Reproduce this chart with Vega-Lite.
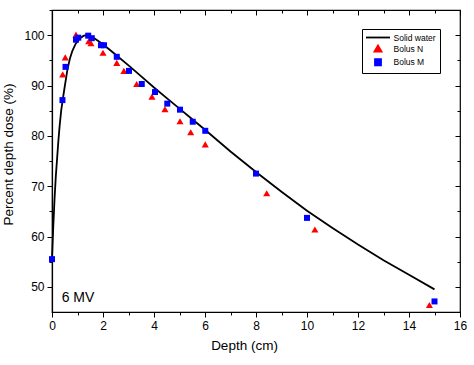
{
  "$schema": "https://vega.github.io/schema/vega-lite/v6.json",
  "autosize": "none",
  "width": 408,
  "height": 302,
  "padding": {"left": 52, "top": 10, "right": 14, "bottom": 53},
  "background": "white",
  "config": {
    "view": {"stroke": "black", "strokeWidth": 1.2},
    "font": "Liberation Sans",
    "axis": {"grid": false, "domainColor": "black", "tickColor": "black", "labelColor": "black", "titleColor": "black", "labelFont": "Liberation Sans", "titleFont": "Liberation Sans", "labelFontSize": 12, "titleFontSize": 13.5, "titleFontWeight": "normal", "domainWidth": 1.2, "tickWidth": 1},
    "legend": {"orient": "none", "legendX": 310, "legendY": 19, "strokeColor": "black", "fillColor": "white", "padding": 4, "labelFontSize": 8.5, "labelFont": "Liberation Sans", "labelColor": "black", "rowPadding": -1, "symbolStrokeWidth": 1.8, "symbolOffset": 7.5, "labelOffset": 11, "title": null}
  },
  "datasets": {
    "water": [
      {"depth": 0, "dose": 55.5, "series": "Solid water"},
      {"depth": 0.05, "dose": 62, "series": "Solid water"},
      {"depth": 0.1, "dose": 67.5, "series": "Solid water"},
      {"depth": 0.15, "dose": 72, "series": "Solid water"},
      {"depth": 0.2, "dose": 75.5, "series": "Solid water"},
      {"depth": 0.25, "dose": 79, "series": "Solid water"},
      {"depth": 0.3, "dose": 82, "series": "Solid water"},
      {"depth": 0.36, "dose": 85, "series": "Solid water"},
      {"depth": 0.43, "dose": 87.5, "series": "Solid water"},
      {"depth": 0.5, "dose": 89.8, "series": "Solid water"},
      {"depth": 0.6, "dose": 93, "series": "Solid water"},
      {"depth": 0.7, "dose": 95.3, "series": "Solid water"},
      {"depth": 0.8, "dose": 96.9, "series": "Solid water"},
      {"depth": 0.93, "dose": 98.3, "series": "Solid water"},
      {"depth": 1.1, "dose": 99.4, "series": "Solid water"},
      {"depth": 1.25, "dose": 99.9, "series": "Solid water"},
      {"depth": 1.4, "dose": 100, "series": "Solid water"},
      {"depth": 1.6, "dose": 99.6, "series": "Solid water"},
      {"depth": 1.8, "dose": 98.9, "series": "Solid water"},
      {"depth": 2.0, "dose": 98.2, "series": "Solid water"},
      {"depth": 2.5, "dose": 96.1, "series": "Solid water"},
      {"depth": 3.0, "dose": 94.0, "series": "Solid water"},
      {"depth": 3.5, "dose": 91.8, "series": "Solid water"},
      {"depth": 4.0, "dose": 89.6, "series": "Solid water"},
      {"depth": 4.5, "dose": 87.5, "series": "Solid water"},
      {"depth": 5.0, "dose": 85.4, "series": "Solid water"},
      {"depth": 5.5, "dose": 83.3, "series": "Solid water"},
      {"depth": 6.0, "dose": 81.2, "series": "Solid water"},
      {"depth": 7.0, "dose": 76.9, "series": "Solid water"},
      {"depth": 8.0, "dose": 72.8, "series": "Solid water"},
      {"depth": 9.0, "dose": 68.9, "series": "Solid water"},
      {"depth": 10.0, "dose": 65.1, "series": "Solid water"},
      {"depth": 11.0, "dose": 61.7, "series": "Solid water"},
      {"depth": 12.0, "dose": 58.4, "series": "Solid water"},
      {"depth": 13.0, "dose": 55.3, "series": "Solid water"},
      {"depth": 14.0, "dose": 52.4, "series": "Solid water"},
      {"depth": 15.0, "dose": 49.5, "series": "Solid water"}
    ],
    "bolusN": [
      {"depth": 0.42, "dose": 92.2, "series": "Bolus N"},
      {"depth": 0.52, "dose": 95.6, "series": "Bolus N"},
      {"depth": 0.94, "dose": 100.1, "series": "Bolus N"},
      {"depth": 1.44, "dose": 98.8, "series": "Bolus N"},
      {"depth": 1.53, "dose": 98.4, "series": "Bolus N"},
      {"depth": 2.0, "dose": 96.5, "series": "Bolus N"},
      {"depth": 2.54, "dose": 94.5, "series": "Bolus N"},
      {"depth": 2.82, "dose": 92.9, "series": "Bolus N"},
      {"depth": 3.32, "dose": 90.3, "series": "Bolus N"},
      {"depth": 3.92, "dose": 87.8, "series": "Bolus N"},
      {"depth": 4.43, "dose": 85.3, "series": "Bolus N"},
      {"depth": 5.02, "dose": 82.9, "series": "Bolus N"},
      {"depth": 5.44, "dose": 80.7, "series": "Bolus N"},
      {"depth": 6.01, "dose": 78.3, "series": "Bolus N"},
      {"depth": 8.42, "dose": 68.6, "series": "Bolus N"},
      {"depth": 10.31, "dose": 61.4, "series": "Bolus N"},
      {"depth": 14.8, "dose": 46.4, "series": "Bolus N"}
    ],
    "bolusM": [
      {"depth": 0, "dose": 55.5, "series": "Bolus M"},
      {"depth": 0.41, "dose": 87.1, "series": "Bolus M"},
      {"depth": 0.53, "dose": 93.7, "series": "Bolus M"},
      {"depth": 0.94, "dose": 99.1, "series": "Bolus M"},
      {"depth": 1.03, "dose": 99.5, "series": "Bolus M"},
      {"depth": 1.42, "dose": 99.9, "series": "Bolus M"},
      {"depth": 1.56, "dose": 99.4, "series": "Bolus M"},
      {"depth": 1.92, "dose": 98.0, "series": "Bolus M"},
      {"depth": 2.04, "dose": 98.0, "series": "Bolus M"},
      {"depth": 2.54, "dose": 95.7, "series": "Bolus M"},
      {"depth": 3.02, "dose": 92.9, "series": "Bolus M"},
      {"depth": 3.52, "dose": 90.3, "series": "Bolus M"},
      {"depth": 4.04, "dose": 88.7, "series": "Bolus M"},
      {"depth": 4.52, "dose": 86.4, "series": "Bolus M"},
      {"depth": 5.02, "dose": 85.2, "series": "Bolus M"},
      {"depth": 5.52, "dose": 82.8, "series": "Bolus M"},
      {"depth": 6.01, "dose": 81.0, "series": "Bolus M"},
      {"depth": 8.0, "dose": 72.5, "series": "Bolus M"},
      {"depth": 10.0, "dose": 63.7, "series": "Bolus M"},
      {"depth": 15.0, "dose": 47.1, "series": "Bolus M"}
    ],
    "label": [
      {"depth": 0.38, "dose": 47, "text": "6 MV"}
    ]
  },
  "resolve": {"axis": {"x": "independent", "y": "independent"}},
  "layer": [
    {
      "data": {"name": "water"},
      "mark": {"type": "line", "color": "black", "strokeWidth": 1.8},
      "encoding": {
        "x": {"field": "depth", "type": "quantitative", "scale": {"domain": [0, 16], "nice": false, "zero": false},
              "axis": {"orient": "bottom", "values": [0, 2, 4, 6, 8, 10, 12, 14, 16], "title": "Depth (cm)", "tickSize": 5, "labelPadding": 3, "titlePadding": 7, "labelFlush": false, "titleX": 192}},
        "y": {"field": "dose", "type": "quantitative", "scale": {"domain": [45, 105], "nice": false, "zero": false},
              "axis": {"orient": "left", "values": [50, 60, 70, 80, 90, 100], "title": "Percent depth dose (%)", "tickSize": 5, "labelPadding": 3, "titlePadding": 8, "labelFlush": false, "titleY": 144}},
        "color": {"field": "series", "type": "nominal",
                  "scale": {"domain": ["Solid water", "Bolus N", "Bolus M"], "range": ["black", "#ff0000", "#0000ff"]}}
      }
    },
    {
      "data": {"name": "bolusN"},
      "mark": {"type": "point", "filled": true, "opacity": 1},
      "encoding": {
        "x": {"field": "depth", "type": "quantitative", "axis": {"orient": "top", "values": [0, 2, 4, 6, 8, 10, 12, 14, 16], "labels": false, "title": null, "tickSize": -5, "domain": false}},
        "y": {"field": "dose", "type": "quantitative", "axis": {"orient": "right", "values": [50, 60, 70, 80, 90, 100], "labels": false, "title": null, "tickSize": -5, "domain": false}},
        "color": {"field": "series", "type": "nominal"},
        "shape": {"field": "series", "type": "nominal", "scale": {"domain": ["Solid water", "Bolus N", "Bolus M"], "range": ["M-3.4,0H3.4", "triangle-up", "square"]}},
        "size": {"field": "series", "type": "nominal", "scale": {"type": "ordinal", "domain": ["Solid water", "Bolus N", "Bolus M"], "range": [50, 50, 36]}}
      }
    },
    {
      "data": {"name": "bolusM"},
      "mark": {"type": "point", "filled": true, "opacity": 1},
      "encoding": {
        "x": {"field": "depth", "type": "quantitative", "axis": {"orient": "top", "values": [1, 3, 5, 7, 9, 11, 13, 15], "labels": false, "title": null, "tickSize": -3, "domain": false}},
        "y": {"field": "dose", "type": "quantitative", "axis": {"orient": "right", "values": [55, 65, 75, 85, 95, 105], "labels": false, "title": null, "tickSize": -3, "domain": false}},
        "color": {"field": "series", "type": "nominal"},
        "shape": {"field": "series", "type": "nominal", "scale": {"domain": ["Solid water", "Bolus N", "Bolus M"], "range": ["M-3.4,0H3.4", "triangle-up", "square"]}},
        "size": {"field": "series", "type": "nominal", "scale": {"type": "ordinal", "domain": ["Solid water", "Bolus N", "Bolus M"], "range": [50, 50, 36]}}
      }
    },
    {
      "data": {"name": "label"},
      "mark": {"type": "text", "align": "left", "baseline": "alphabetic", "fontSize": 14, "font": "Liberation Sans", "color": "black"},
      "encoding": {
        "x": {"field": "depth", "type": "quantitative", "axis": {"orient": "bottom", "values": [1, 3, 5, 7, 9, 11, 13, 15], "labels": false, "title": null, "tickSize": 3, "domain": false}},
        "y": {"field": "dose", "type": "quantitative", "axis": {"orient": "left", "values": [55, 65, 75, 85, 95, 105], "labels": false, "title": null, "tickSize": 3, "domain": false}},
        "text": {"field": "text", "type": "nominal"}
      }
    }
  ]
}
